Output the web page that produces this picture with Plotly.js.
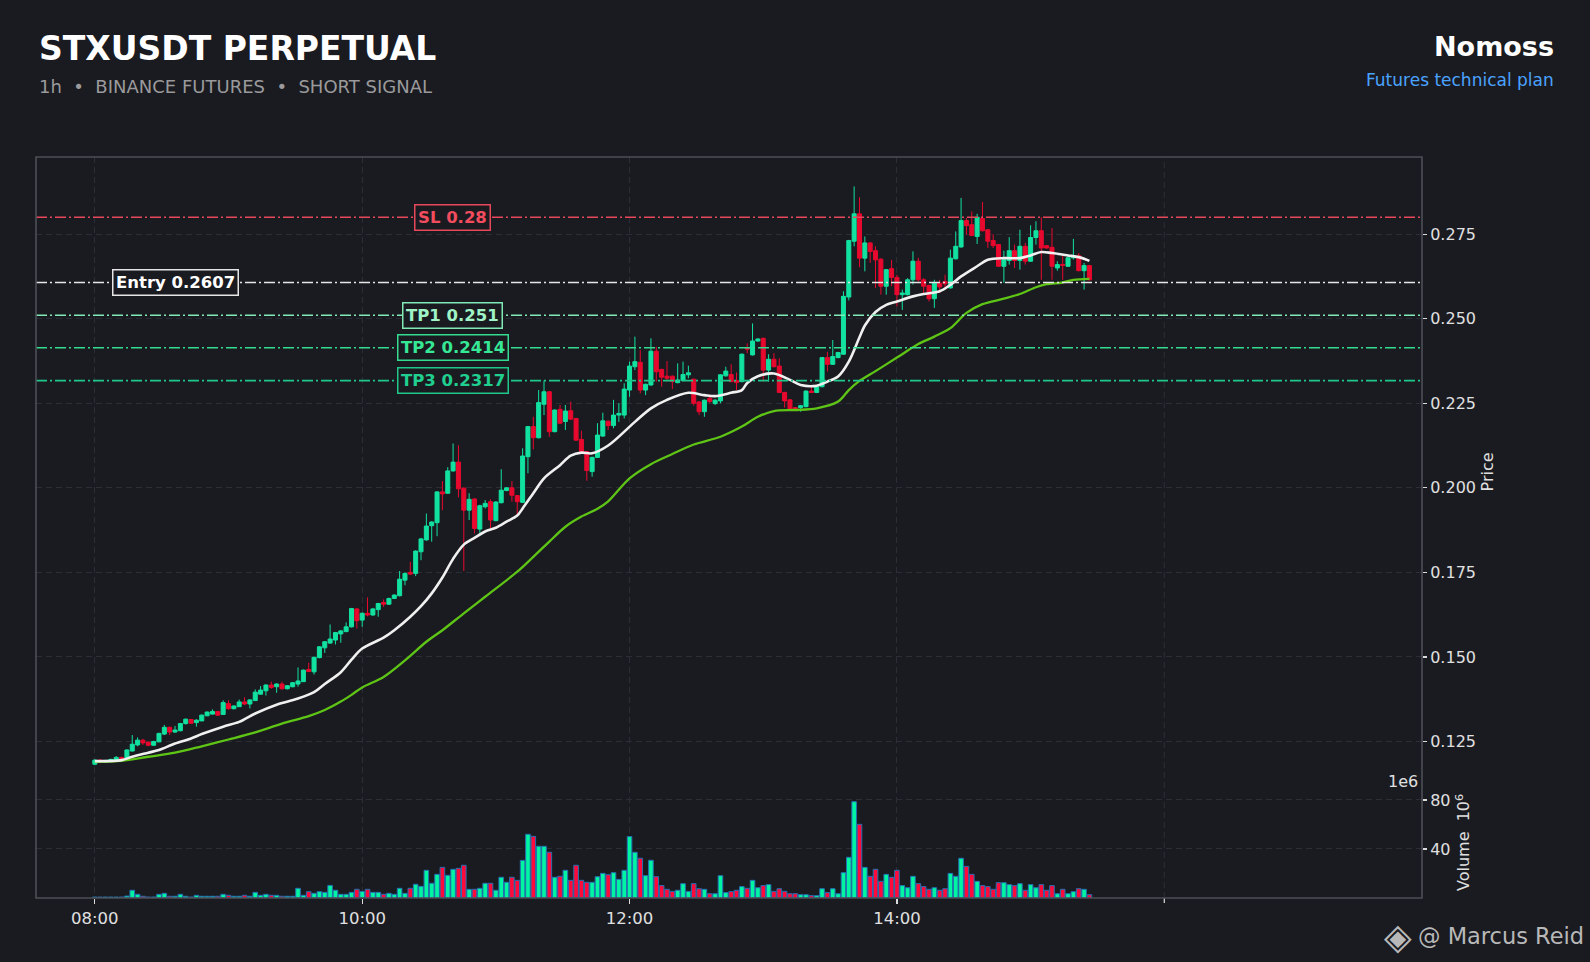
<!DOCTYPE html>
<html>
<head>
<meta charset="utf-8">
<script src="https://cdn.plot.ly/plotly-3.0.1.min.js"></script>
<style>
  html, body { margin: 0; padding: 0; background: #1a1b20; }
  #chart { width: 1590px; height: 962px; }
</style>
</head>
<body>
<div id="chart"></div>
<script>
// ---------- DATA ----------
const START = '2024-01-01T08:00:00Z';
const STEP_MIN = 2.4; // spacing between candles, minutes

const OPEN = [
0.1183,0.1195,0.1190,0.1194,0.1196,0.1203,0.1200,0.1222,0.1240,0.1254,
0.1248,0.1239,0.1249,0.1272,0.1292,0.1278,0.1282,0.1303,0.1315,0.1306,
0.1311,0.1326,0.1331,0.1339,0.1330,0.1362,0.1347,0.1353,0.1367,0.1361,
0.1371,0.1390,0.1400,0.1417,0.1412,0.1420,0.1406,0.1412,0.1420,0.1427,
0.1463,0.1456,0.1498,0.1527,0.1541,0.1550,0.1568,0.1575,0.1589,0.1642,
0.1609,0.1629,0.1624,0.1640,0.1661,0.1656,0.1673,0.1681,0.1727,0.1750,
0.1747,0.1811,0.1846,0.1888,0.1897,0.1988,0.1984,0.2050,0.2076,0.1999,
0.1934,0.1967,0.1878,0.1944,0.1959,0.1903,0.1956,0.1992,0.2000,0.1977,
0.1957,0.2092,0.2181,0.2148,0.2247,0.2284,0.2166,0.2232,0.2196,0.2228,
0.2205,0.2143,0.2107,0.2048,0.2090,0.2153,0.2197,0.2184,0.2215,0.2215,
0.2289,0.2358,0.2371,0.2289,0.2304,0.2404,0.2350,0.2330,0.2330,0.2311,
0.2317,0.2334,0.2321,0.2254,0.2225,0.2265,0.2249,0.2257,0.2331,0.2335,
0.2317,0.2314,0.2414,0.2393,0.2434,0.2442,0.2348,0.2380,0.2360,0.2282,
0.2260,0.2237,0.2237,0.2240,0.2286,0.2282,0.2299,0.2385,0.2365,0.2385,
0.2395,0.2564,0.2729,0.2810,0.2679,0.2724,0.2701,0.2676,0.2596,0.2648,
0.2622,0.2571,0.2571,0.2615,0.2670,0.2615,0.2598,0.2559,0.2605,0.2610,
0.2591,0.2677,0.2712,0.2790,0.2778,0.2743,0.2796,0.2763,0.2731,0.2719,
0.2655,0.2672,0.2701,0.2672,0.2714,0.2670,0.2740,0.2760,0.2716,0.2711,
0.2650,0.2660,0.2655,0.2680,0.2686,0.2642,0.2657];

const HIGH = [
0.1197,0.1197,0.1196,0.1199,0.1207,0.1205,0.1227,0.1269,0.1262,0.1258,
0.1250,0.1252,0.1276,0.1299,0.1294,0.1296,0.1305,0.1318,0.1317,0.1316,
0.1330,0.1339,0.1345,0.1340,0.1372,0.1372,0.1357,0.1374,0.1381,0.1375,
0.1404,0.1414,0.1419,0.1427,0.1422,0.1427,0.1417,0.1426,0.1469,0.1463,
0.1483,0.1501,0.1532,0.1547,0.1596,0.1574,0.1580,0.1602,0.1645,0.1645,
0.1632,0.1676,0.1645,0.1660,0.1670,0.1675,0.1685,0.1754,0.1750,0.1781,
0.1815,0.1852,0.1924,0.1901,0.1990,0.2020,0.2061,0.2131,0.2126,0.2001,
0.1984,0.1969,0.1950,0.1964,0.1966,0.1960,0.2055,0.2002,0.2020,0.1979,
0.2117,0.2183,0.2210,0.2289,0.2317,0.2286,0.2232,0.2245,0.2245,0.2255,
0.2207,0.2169,0.2109,0.2092,0.2191,0.2222,0.2199,0.2260,0.2250,0.2309,
0.2373,0.2447,0.2407,0.2308,0.2442,0.2417,0.2352,0.2375,0.2332,0.2368,
0.2373,0.2361,0.2323,0.2256,0.2261,0.2275,0.2262,0.2336,0.2358,0.2365,
0.2341,0.2397,0.2427,0.2486,0.2442,0.2444,0.2395,0.2398,0.2383,0.2284,
0.2262,0.2239,0.2245,0.2288,0.2299,0.2301,0.2387,0.2402,0.2437,0.2402,
0.2581,0.2733,0.2891,0.2859,0.2743,0.2726,0.2714,0.2679,0.2647,0.2674,
0.2630,0.2586,0.2620,0.2699,0.2680,0.2620,0.2600,0.2615,0.2615,0.2630,
0.2704,0.2758,0.2857,0.2798,0.2817,0.2810,0.2845,0.2765,0.2750,0.2721,
0.2701,0.2741,0.2719,0.2763,0.2724,0.2776,0.2788,0.2800,0.2718,0.2768,
0.2670,0.2686,0.2684,0.2736,0.2694,0.2665,0.2659];

const LOW = [
0.1180,0.1186,0.1187,0.1192,0.1194,0.1196,0.1199,0.1220,0.1236,0.1240,
0.1236,0.1237,0.1248,0.1269,0.1269,0.1276,0.1280,0.1300,0.1302,0.1294,
0.1310,0.1325,0.1330,0.1326,0.1329,0.1344,0.1345,0.1352,0.1358,0.1348,
0.1370,0.1389,0.1386,0.1406,0.1394,0.1404,0.1404,0.1410,0.1412,0.1426,
0.1455,0.1448,0.1496,0.1512,0.1539,0.1537,0.1542,0.1573,0.1587,0.1584,
0.1589,0.1620,0.1622,0.1619,0.1648,0.1654,0.1671,0.1679,0.1712,0.1742,
0.1739,0.1786,0.1844,0.1841,0.1857,0.1934,0.1982,0.2048,0.1972,0.1754,
0.1905,0.1865,0.1867,0.1939,0.1880,0.1901,0.1954,0.1990,0.1959,0.1920,
0.1955,0.2043,0.2114,0.2146,0.2215,0.2151,0.2164,0.2189,0.2171,0.2201,
0.2139,0.2105,0.2021,0.2033,0.2088,0.2151,0.2171,0.2176,0.2195,0.2205,
0.2269,0.2348,0.2279,0.2274,0.2302,0.2314,0.2299,0.2314,0.2292,0.2309,
0.2315,0.2324,0.2243,0.2215,0.2210,0.2250,0.2245,0.2250,0.2329,0.2312,
0.2289,0.2312,0.2398,0.2391,0.2432,0.2314,0.2314,0.2356,0.2280,0.2237,
0.2231,0.2227,0.2225,0.2238,0.2280,0.2280,0.2297,0.2344,0.2363,0.2383,
0.2393,0.2554,0.2714,0.2652,0.2640,0.2665,0.2591,0.2571,0.2571,0.2596,
0.2536,0.2526,0.2569,0.2601,0.2610,0.2576,0.2551,0.2532,0.2576,0.2586,
0.2589,0.2675,0.2710,0.2748,0.2744,0.2721,0.2758,0.2709,0.2709,0.2653,
0.2606,0.2660,0.2650,0.2645,0.2660,0.2668,0.2719,0.2615,0.2707,0.2615,
0.2642,0.2615,0.2653,0.2675,0.2640,0.2586,0.2613];

const CLOSE = [
0.1195,0.1190,0.1194,0.1197,0.1203,0.1200,0.1225,0.1242,0.1254,0.1246,
0.1239,0.1250,0.1274,0.1292,0.1278,0.1284,0.1303,0.1316,0.1304,0.1313,
0.1328,0.1337,0.1339,0.1328,0.1365,0.1347,0.1355,0.1367,0.1361,0.1373,
0.1396,0.1402,0.1417,0.1410,0.1420,0.1406,0.1415,0.1424,0.1429,0.1461,
0.1457,0.1499,0.1530,0.1545,0.1553,0.1572,0.1577,0.1589,0.1643,0.1607,
0.1629,0.1624,0.1642,0.1658,0.1656,0.1673,0.1683,0.1730,0.1747,0.1745,
0.1813,0.1849,0.1887,0.1899,0.1988,0.1982,0.2050,0.2076,0.1997,0.1934,
0.1966,0.1880,0.1947,0.1954,0.1905,0.1958,0.1993,0.2000,0.1978,0.1959,
0.2094,0.2181,0.2148,0.2252,0.2284,0.2166,0.2230,0.2191,0.2227,0.2203,
0.2141,0.2107,0.2051,0.2090,0.2156,0.2198,0.2184,0.2215,0.2220,0.2292,
0.2360,0.2373,0.2289,0.2306,0.2404,0.2343,0.2327,0.2324,0.2314,0.2319,
0.2335,0.2340,0.2250,0.2225,0.2259,0.2255,0.2259,0.2334,0.2345,0.2314,
0.2311,0.2395,0.2410,0.2434,0.2440,0.2348,0.2380,0.2358,0.2282,0.2257,
0.2233,0.2230,0.2243,0.2286,0.2282,0.2299,0.2385,0.2365,0.2388,0.2400,
0.2566,0.2731,0.2810,0.2679,0.2724,0.2699,0.2674,0.2596,0.2645,0.2622,
0.2571,0.2576,0.2615,0.2670,0.2615,0.2596,0.2559,0.2605,0.2594,0.2603,
0.2679,0.2714,0.2790,0.2775,0.2746,0.2800,0.2760,0.2729,0.2716,0.2655,
0.2674,0.2701,0.2672,0.2714,0.2670,0.2740,0.2760,0.2709,0.2709,0.2655,
0.2660,0.2658,0.2680,0.2686,0.2642,0.2657,0.2615];

// volume in millions
const VOLUME = [
0.8,0.8,0.8,0.8,0.8,0.8,1.6,6.3,3.0,1.4,
0.8,0.8,3.0,3.8,1.4,1.4,3.0,1.4,0.8,2.2,
1.4,1.4,1.4,1.4,3.0,2.2,1.4,1.4,2.2,1.4,
4.6,2.2,3.0,2.2,2.2,1.4,1.4,1.4,7.9,2.2,
5.2,3.8,5.2,4.6,10.3,6.3,3.0,3.0,4.6,7.1,
5.4,7.1,4.6,4.6,3.0,3.8,3.0,7.9,3.8,7.9,
11.2,9.5,22.6,12.0,19.3,25.0,18.5,23.4,24.2,26.7,
7.1,7.1,7.9,12.0,12.0,6.3,16.9,12.8,16.9,14.4,
30.7,52.0,50.3,42.2,42.2,37.3,16.9,17.7,22.6,14.4,
26.7,14.4,12.8,12.8,17.4,20.1,19.0,20.7,15.2,22.6,
50.1,37.3,32.4,18.2,30.8,17.4,10.1,7.1,5.4,6.3,
11.7,5.4,11.7,7.6,7.1,3.5,3.5,18.2,4.4,5.2,
6.3,9.3,7.9,14.4,8.4,10.1,10.9,5.4,7.6,5.4,
3.5,3.5,2.7,2.7,1.9,1.9,7.6,4.4,7.6,3.5,
20.7,33.2,78.6,60.1,25.0,17.7,23.4,13.6,19.3,16.9,
22.6,10.1,8.4,17.7,11.7,9.3,7.1,8.4,6.3,7.6,
20.1,17.7,32.4,25.8,19.3,13.6,10.1,9.3,7.1,12.5,
12.5,10.9,10.1,11.7,6.3,10.9,8.4,10.9,6.3,10.1,
3.5,7.1,3.5,5.2,7.6,7.1,2.7];

const EMA_FAST_IDX = [0,5,7,10,12,15,18,20,24,27,30,34,38,41,43,46,48,50,54,56,59,61,63,65,67,69,71,73,75,77,79,80,82,84,87,89,91,93,96,101,104,107,111,114,116,119,121,122,124,127,130,132,135,137,139,141,143,144,146,148,150,153,155,158,160,162,165,167,170,173,175,177,179,182,184,186];
const EMA_FAST_VAL = [0.1192,0.1195,0.1205,0.1217,0.1225,0.1244,0.1259,0.1272,0.1294,0.1308,0.1333,0.1359,0.1377,0.1396,0.1420,0.1455,0.1492,0.1525,0.1557,0.1579,0.1619,0.1650,0.1688,0.1735,0.1790,0.1832,0.1852,0.1871,0.1882,0.1900,0.1918,0.1939,0.1984,0.2028,0.2067,0.2095,0.2104,0.2102,0.2125,0.2195,0.2235,0.2260,0.2281,0.2274,0.2271,0.2281,0.2289,0.2310,0.2330,0.2338,0.2319,0.2304,0.2302,0.2314,0.2329,0.2373,0.2445,0.2480,0.2520,0.2541,0.2551,0.2566,0.2573,0.2581,0.2600,0.2625,0.2655,0.2674,0.2679,0.2679,0.2687,0.2697,0.2694,0.2687,0.2682,0.2671];
const EMA_SLOW_IDX = [0,5,10,15,20,25,30,35,40,43,46,48,50,54,58,62,65,69,73,79,82,85,88,91,94,96,100,104,108,112,117,121,124,127,131,135,139,141,143,146,150,154,157,160,163,166,170,173,176,178,181,183,186];
const EMA_SLOW_VAL = [0.1190,0.1193,0.1205,0.1217,0.1236,0.1256,0.1277,0.1303,0.1325,0.1343,0.1368,0.1388,0.1410,0.1441,0.1490,0.1545,0.1579,0.1629,0.1678,0.1752,0.1796,0.1841,0.1885,0.1915,0.1938,0.1960,0.2028,0.2070,0.2100,0.2128,0.2151,0.2181,0.2210,0.2227,0.2230,0.2235,0.2255,0.2289,0.2316,0.2345,0.2385,0.2425,0.2447,0.2472,0.2517,0.2543,0.2559,0.2573,0.2593,0.2602,0.2607,0.2615,0.2618];

const LEVEL_NAMES  = ['SL', 'Entry', 'TP1', 'TP2', 'TP3'];
const LEVEL_VALUES = [0.28, 0.2607, 0.251, 0.2414, 0.2317];
const LEVEL_LABELS = ['SL 0.28', 'Entry 0.2607', 'TP1 0.251', 'TP2 0.2414', 'TP3 0.2317'];

const PRICE_TICKS = [0.125, 0.150, 0.175, 0.200, 0.225, 0.250, 0.275];
const VOLUME_TICKS = [40, 80];
const TIME_TICKS = ['08:00', '10:00', '12:00', '14:00'];
const UNLABELED_TIME_TICK = '16:00';

// ---------- STYLE ----------
const BG = '#1a1b20';
const UP = '#12e2a0', DOWN = '#e8092e';
const VOL_UP = '#00f5a3', VOL_DOWN = '#ff0a3a', VOL_EDGE = '#2470b2';
const LEVEL_COLORS = ['#e5485a', '#e6e6e6', '#80e9b6', '#34dc90', '#1fc88a'];
const LEVEL_TEXT   = ['#f24c5e', '#ffffff', '#9ff3c6', '#36e896', '#20cf8f'];
const FONT = 'DejaVu Sans, Verdana, sans-serif';
const TICK_COLOR = '#dcdcdc', GRID = '#2b2e36';

// ---------- helpers ----------
const startMs = Date.parse(START);
function tstr(ms) { return new Date(ms).toISOString().replace('T', ' ').slice(0, 19); }
const TIMES = OPEN.map((_, i) => tstr(startMs + i * STEP_MIN * 60000));
function dayTime(hm) { return '2024-01-01 ' + hm + ':00'; }

// pixel helpers for page-level text (plot area: x 36..1422, y 157..898)
const L_PX = 36, R_PX = 1422, T_PX = 157, B_PX = 898;
const px = x => (x - L_PX) / (R_PX - L_PX);
const py = y => (B_PX - y) / (B_PX - T_PX);

const candle = {
  type: 'candlestick', x: TIMES, open: OPEN, high: HIGH, low: LOW, close: CLOSE,
  xaxis: 'x', yaxis: 'y', whiskerwidth: 0,
  increasing: { line: { color: UP, width: 1 }, fillcolor: UP },
  decreasing: { line: { color: DOWN, width: 1 }, fillcolor: DOWN },
  hoverinfo: 'skip', showlegend: false
};

const volColors = CLOSE.map((c, i) => c >= OPEN[i] ? VOL_UP : VOL_DOWN);
const volume = {
  type: 'bar', x: TIMES, y: VOLUME, xaxis: 'x', yaxis: 'y2',
  width: STEP_MIN * 60000 * 0.86,
  marker: { color: volColors, line: { color: VOL_EDGE, width: 1 } },
  hoverinfo: 'skip', showlegend: false
};

const emaFast = {
  type: 'scatter', mode: 'lines', x: EMA_FAST_IDX.map(i => TIMES[i]), y: EMA_FAST_VAL,
  xaxis: 'x', yaxis: 'y', line: { color: '#f0f0f0', width: 2.6, shape: 'spline', smoothing: 0.9 },
  hoverinfo: 'skip', showlegend: false
};
const emaSlow = {
  type: 'scatter', mode: 'lines', x: EMA_SLOW_IDX.map(i => TIMES[i]), y: EMA_SLOW_VAL,
  xaxis: 'x', yaxis: 'y', line: { color: '#5ec516', width: 2.3, shape: 'spline', smoothing: 0.9 },
  hoverinfo: 'skip', showlegend: false
};

const shapes = LEVEL_VALUES.map((v, k) => ({
  type: 'line', xref: 'paper', x0: 0, x1: 1, yref: 'y', y0: v, y1: v,
  line: { color: LEVEL_COLORS[k], width: 1.6, dash: '11px,3px,2px,3px' }, layer: 'above'
}));
// the 16:00 tick is drawn without a label in the reference: grid line + tick mark
shapes.push({
  type: 'line', xref: 'x', x0: dayTime(UNLABELED_TIME_TICK), x1: dayTime(UNLABELED_TIME_TICK),
  yref: 'paper', y0: 0, y1: 1, line: { color: GRID, width: 1, dash: '6px,4px' }, layer: 'below'
});
shapes.push({
  type: 'line', xref: 'x', x0: dayTime(UNLABELED_TIME_TICK), x1: dayTime(UNLABELED_TIME_TICK),
  yref: 'paper', y0: 0, y1: -5 / (B_PX - T_PX), line: { color: TICK_COLOR, width: 1.2 }, layer: 'above'
});
shapes.push({
  type: 'rect', xref: 'paper', yref: 'paper', x0: 0, x1: 1, y0: 0, y1: 1,
  line: { color: '#4c4f57', width: 1.6 }, fillcolor: 'rgba(0,0,0,0)', layer: 'above'
});

const LABEL_X = [452.5, 175.5, 452.5, 452.5, 452.5];
const annotations = LEVEL_VALUES.map((v, k) => ({
  xref: 'paper', x: px(LABEL_X[k]), yref: 'y', y: v,
  text: '<b>' + LEVEL_LABELS[k] + '</b>', showarrow: false,
  xanchor: 'center', yanchor: 'middle',
  font: { family: FONT, size: 16.5, color: LEVEL_TEXT[k] },
  bgcolor: BG, bordercolor: LEVEL_COLORS[k], borderwidth: 1.5, borderpad: 2.5
}));

annotations.push(
  { xref: 'paper', yref: 'paper', x: px(36.5), y: py(49), xanchor: 'left', yanchor: 'middle',
    text: '<b>STXUSDT PERPETUAL</b>', showarrow: false,
    font: { family: FONT, size: 33, color: '#ffffff' } },
  { xref: 'paper', yref: 'paper', x: px(36.5), y: py(86.5), xanchor: 'left', yanchor: 'middle',
    text: '1h\u00a0\u00a0•\u00a0\u00a0BINANCE FUTURES\u00a0\u00a0•\u00a0\u00a0SHORT SIGNAL', showarrow: false,
    font: { family: FONT, size: 18, color: '#9a9a9c' } },
  { xref: 'paper', yref: 'paper', x: px(1556), y: py(46.5), xanchor: 'right', yanchor: 'middle',
    text: '<b>Nomoss</b>', showarrow: false,
    font: { family: FONT, size: 27, color: '#ffffff' } },
  { xref: 'paper', yref: 'paper', x: px(1556), y: py(80), xanchor: 'right', yanchor: 'middle',
    text: 'Futures technical plan', showarrow: false,
    font: { family: FONT, size: 17, color: '#4aa3ff' } },
  { xref: 'paper', yref: 'paper', x: 1, xshift: -2, y: py(781.5), xanchor: 'right', yanchor: 'middle',
    text: '1e6', showarrow: false,
    font: { family: FONT, size: 16, color: '#e0e0e0' } },
  { xref: 'paper', yref: 'paper', x: px(1398), y: py(936), xanchor: 'center', yanchor: 'middle',
    text: '◈', showarrow: false,
    font: { family: FONT, size: 36, color: '#b8b8b8' } },
  { xref: 'paper', yref: 'paper', x: px(1416), y: py(936), xanchor: 'left', yanchor: 'middle',
    text: '@ Marcus Reid', showarrow: false,
    font: { family: FONT, size: 22.5, color: '#b8b8b8' } }
);

const layout = {
  width: 1590, height: 962,
  paper_bgcolor: BG, plot_bgcolor: BG,
  margin: { l: L_PX, r: 1590 - R_PX, t: T_PX, b: 962 - B_PX, pad: 0 },
  showlegend: false, hovermode: false,
  boxgap: 0.25, boxgroupgap: 0,
  font: { family: FONT, color: '#e0e0e0', size: 16 },
  xaxis: {
    type: 'date', domain: [0, 1], anchor: 'y2',
    range: [tstr(startMs - 26.4 * 60000), tstr(startMs + 9.928 * 3600000)],
    tickvals: TIME_TICKS.map(dayTime), ticktext: TIME_TICKS,
    ticks: 'outside', ticklen: 5, tickwidth: 1.2, tickcolor: TICK_COLOR,
    tickfont: { family: FONT, size: 16.5, color: '#e0e0e0' },
    showgrid: true, gridcolor: GRID, griddash: '6px,4px', gridwidth: 1,
    zeroline: false, showline: false,
    rangeslider: { visible: false }
  },
  yaxis: {
    domain: [0.15, 1], anchor: 'x', side: 'right',
    range: [0.1116, 0.2978],
    tickvals: PRICE_TICKS, tickformat: '.3f',
    ticks: 'outside', ticklen: 4, tickwidth: 1.2, tickcolor: TICK_COLOR,
    tickfont: { family: FONT, size: 16, color: '#e0e0e0' },
    showgrid: true, gridcolor: GRID, griddash: '6px,4px', gridwidth: 1,
    zeroline: false, showline: false,
    title: { text: 'Price', font: { family: FONT, size: 16, color: '#e0e0e0' }, standoff: 6 }
  },
  yaxis2: {
    domain: [0, 0.15], anchor: 'x', side: 'right',
    range: [0, 90.7],
    tickvals: VOLUME_TICKS,
    ticks: 'outside', ticklen: 4, tickwidth: 1.2, tickcolor: TICK_COLOR,
    tickfont: { family: FONT, size: 16, color: '#e0e0e0' },
    showgrid: true, gridcolor: GRID, griddash: '6px,4px', gridwidth: 1,
    zeroline: false, showline: false,
    title: { text: 'Volume\u00a0\u00a010<sup>6</sup>', font: { family: FONT, size: 16, color: '#e0e0e0' }, standoff: 8 }
  },
  shapes: shapes,
  annotations: annotations
};

Plotly.newPlot('chart', [volume, candle, emaSlow, emaFast], layout, { displayModeBar: false, staticPlot: true });
</script>
</body>
</html>
